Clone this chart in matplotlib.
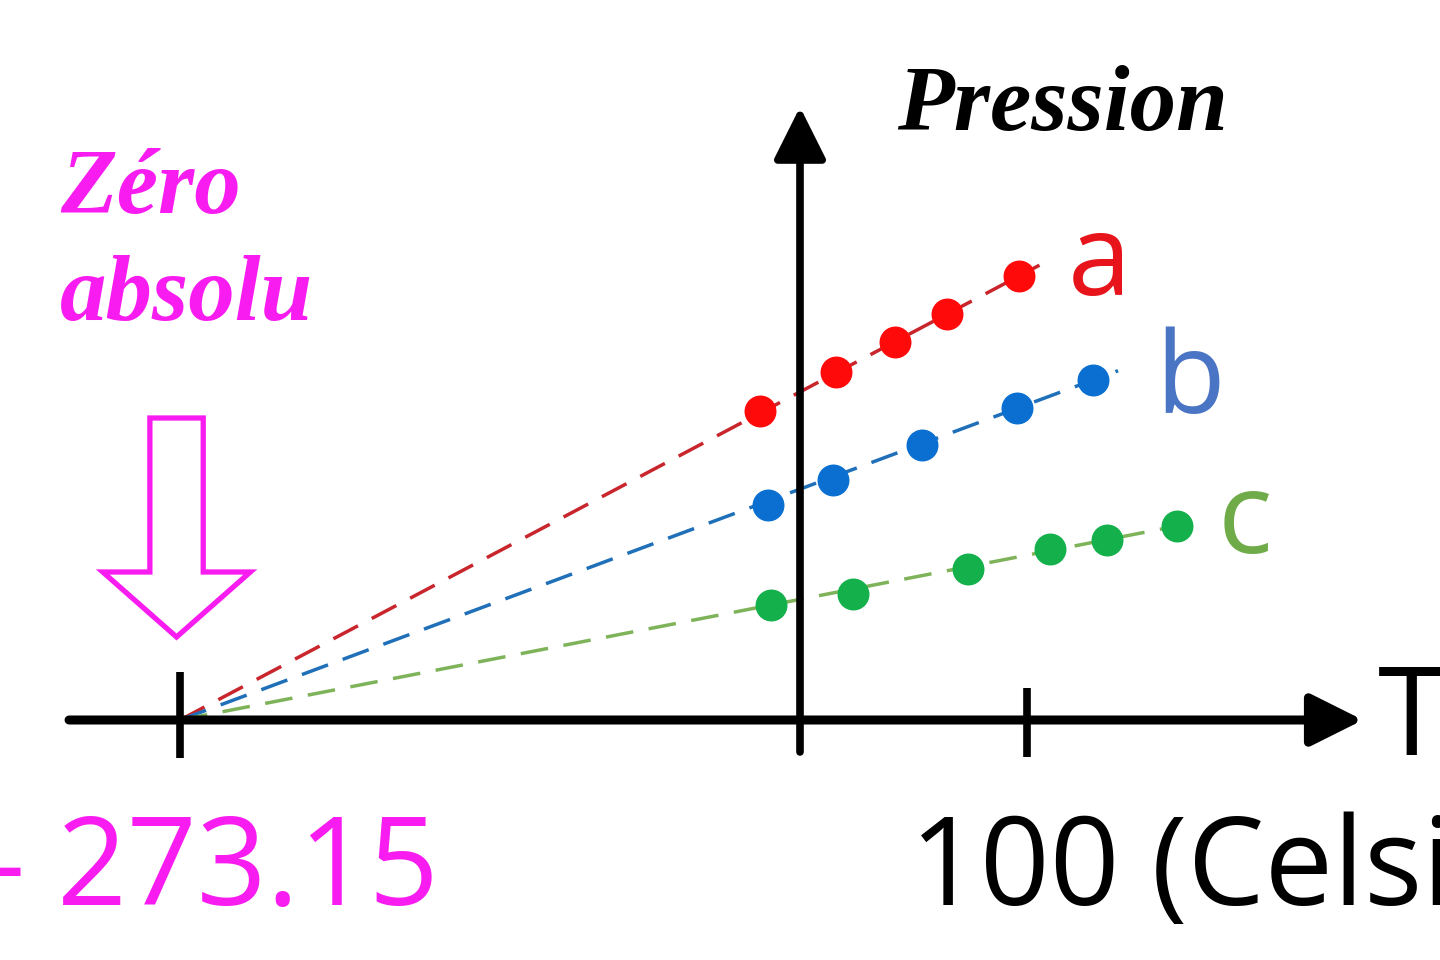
import matplotlib.pyplot as plt
from matplotlib.patches import FancyArrow

zero_abs = -273.15
t_a = [-17.6, 15.9, 41.9, 64.8, 96.5]
p_a = [3.09, 3.48, 3.78, 4.06, 4.44]
t_b = [-14.1, 14.5, 53.7, 95.6, 129.1]
p_b = [2.15, 2.40, 2.75, 3.12, 3.40]
t_c = [-12.8, 23.3, 74.0, 110.1, 135.2, 166.1]
p_c = [1.15, 1.26, 1.51, 1.71, 1.80, 1.94]
tick_t = [zero_abs, 100]

W, H = 1440, 960
magenta = '#f81cf0'

fig = plt.figure(figsize=(14.4, 9.6), dpi=100)
ax = fig.add_axes([0, 0, 1, 1])
ax.set_xlim(-800 / 2.27, 640 / 2.27)
ax.set_ylim(-2.4, 7.2)
ax.axis('off')


def fx(px):
    return px / W


def fy(py):
    return 1 - py / H


# axes avec flèches
ax.annotate('', xy=(248.0, 0), xytext=(-322.0, 0),
            arrowprops=dict(arrowstyle='-|>,head_length=0.4,head_width=0.2', lw=6.5,
                            color='black', mutation_scale=80, shrinkA=0, shrinkB=0))
ax.annotate('', xy=(0, 6.13), xytext=(0, -0.32),
            arrowprops=dict(arrowstyle='-|>,head_length=0.4,head_width=0.2', lw=5.5,
                            color='black', mutation_scale=80, shrinkA=0, shrinkB=0))
ax.plot([tick_t[0], tick_t[0]], [-0.38, 0.48], color='black', lw=5.5, solid_capstyle='butt')
ax.plot([tick_t[1], tick_t[1]], [-0.37, 0.32], color='black', lw=5.5, solid_capstyle='butt')

# droites pointillées + mesures
series = [
    (t_a, p_a, '#c8262c', '#ff0a0a', 9),
    (t_b, p_b, '#1f70b8', '#0a6fd0', 11),
    (t_c, p_c, '#7fb35a', '#13b04b', 0),
]
for t, p, lc, mc, ext in series:
    slope = p[-1] / (t[-1] - zero_abs)
    t_end = t[-1] + ext
    ax.plot([zero_abs, t_end], [0, slope * (t_end - zero_abs)], color=lc, lw=2.5,
            dashes=(8, 4.5), zorder=2)
    ax.plot(t, p, 'o', color=mc, ms=22, zorder=3)

fig.text(fx(1068), fy(295), 'a', color='#e8141b', fontsize=82, family='Open Sans', va='baseline')
fig.text(fx(1155), fy(413), 'b', color='#4a74c4', fontsize=82, family='Open Sans', va='baseline')
fig.text(fx(1218), fy(553), 'c', color='#6fab48', fontsize=82, family='Open Sans', va='baseline')

# textes
fig.text(fx(897), fy(130), 'Pression', fontsize=67, family='Liberation Serif',
         weight='bold', style='italic', va='baseline')
fig.text(fx(60), fy(213), 'Zéro', fontsize=67, family='Liberation Serif',
         weight='bold', style='italic', va='baseline', color=magenta)
fig.text(fx(60), fy(320), 'absolu', fontsize=67, family='Liberation Serif',
         weight='bold', style='italic', va='baseline', color=magenta)
fig.text(fx(1378), fy(755), 'T', fontsize=88, family='Open Sans', va='baseline')
fig.text(fx(-14), fy(905), '- 273.15', fontsize=88, family='Open Sans', va='baseline',
         color=magenta)
fig.text(fx(910), fy(905), '100 (Celsius)', fontsize=88, family='Open Sans', va='baseline')

# flèche creuse vers le zéro absolu
ax.add_patch(FancyArrow(zero_abs - 1.5, 3.02, 0, -2.19, width=23.5, head_width=65,
                        head_length=0.65, length_includes_head=True, fill=False,
                        edgecolor=magenta, lw=3.8))

fig.savefig('out.png', dpi=100)
